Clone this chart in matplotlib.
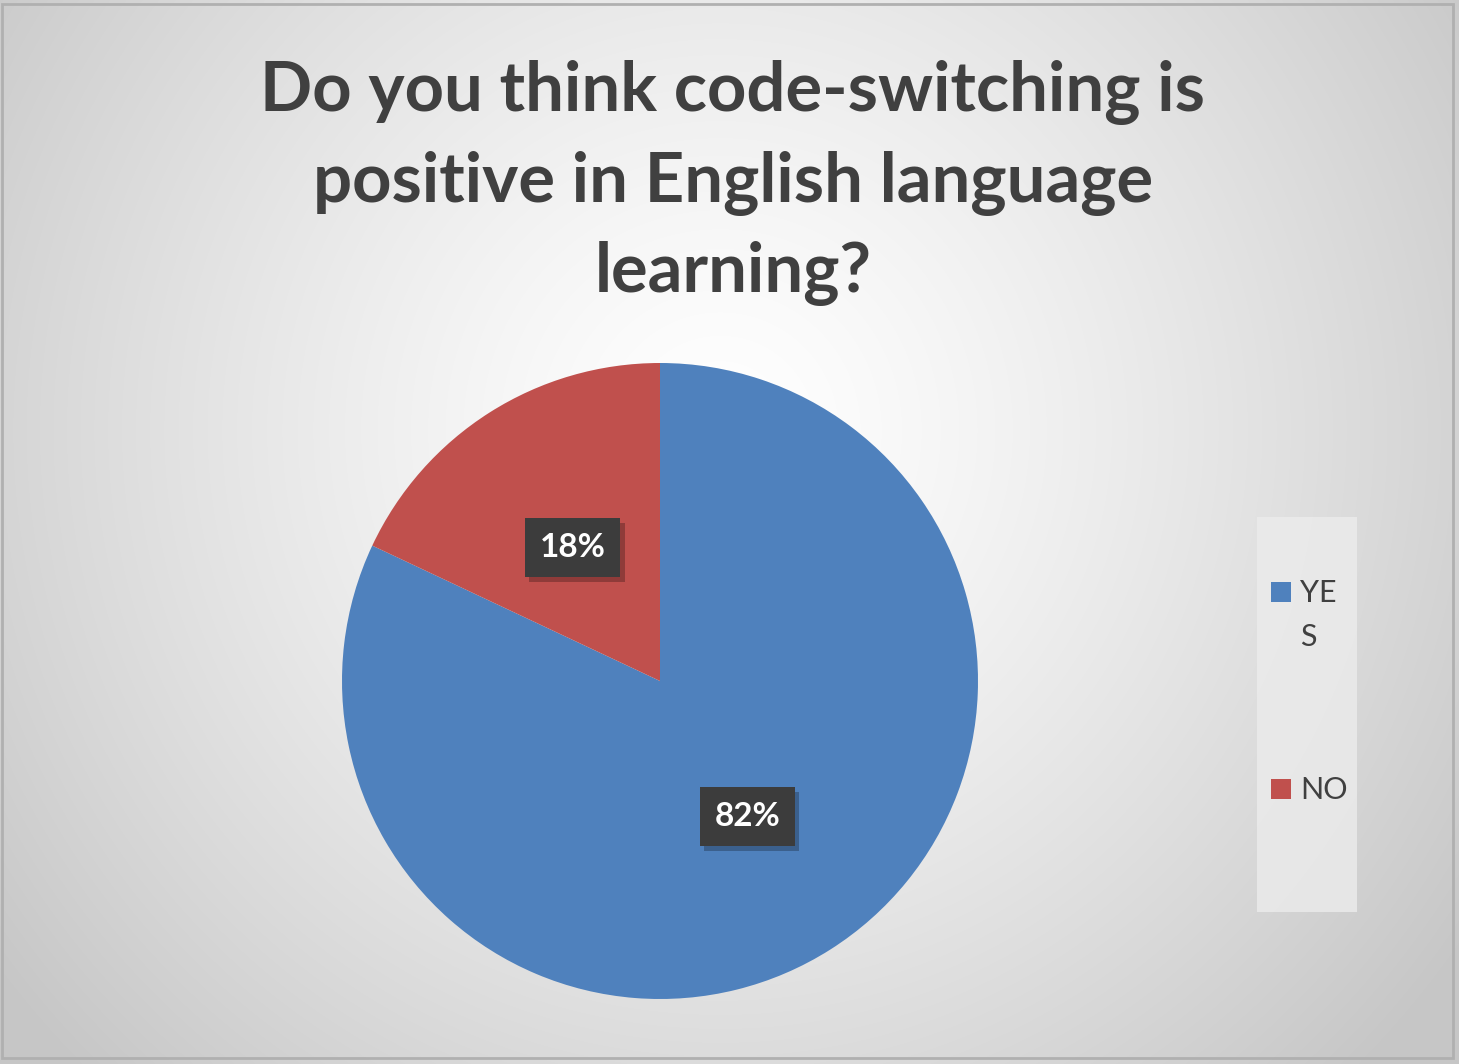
import numpy as np
import matplotlib
matplotlib.use("Agg")
import matplotlib.pyplot as plt
from matplotlib.patches import Rectangle
import matplotlib.patheffects as pe

categories = ["YES", "NO"]
legend_labels = ["YE\nS", "NO"]
values = [82, 18]
colors = ["#4F81BD", "#C0504D"]
title = "Do you think code-switching is\npositive in English language\nlearning?"

W, H = 1459, 1064
fig = plt.figure(figsize=(W / 100, H / 100), dpi=100)

# radial gradient background
bg = fig.add_axes([0, 0, 1, 1])
yy, xx = np.mgrid[0:H, 0:W]
cx, cy = 720, 430
d = np.sqrt((xx - cx) ** 2 + (yy - cy) ** 2)
d = np.clip(d / 900.0, 0, 1)
val = 1.0 - 0.22 * d ** 1.3
img = np.dstack([val, val, val])
bg.imshow(img, extent=[0, W, H, 0], aspect="auto", interpolation="bilinear")
bg.set_xlim(0, W)
bg.set_ylim(H, 0)
bg.axis("off")
bg.add_patch(Rectangle((2, 4), W - 8, H - 10, fill=False, edgecolor="#b0b0b0", lw=2))

# legend box
bg.add_patch(Rectangle((1257, 517), 100, 395, facecolor="#ececec", edgecolor="none", alpha=0.8))

bg.text(733, 183, title, ha="center", va="center", fontsize=49.5, fontweight="bold",
        family="Lato", color="#404040", linespacing=1.5)

# pie
cxp, cyp, r = 660, 681, 318
ax = fig.add_axes([(cxp - r) / W, (H - cyp - r) / H, 2 * r / W, 2 * r / H])
wedges, _ = ax.pie(values, colors=colors, startangle=90, counterclock=False,
                   radius=1, wedgeprops=dict(linewidth=0))
ax.set_xlim(-1, 1)
ax.set_ylim(-1, 1)
ax.set_aspect("auto")
ax.axis("off")

# data labels with shadowed boxes
label_pos = [(0.275, -0.425), (-0.275, 0.42)]
for v, (lx, ly) in zip(values, label_pos):
    t = ax.text(lx, ly, f"{v}%", ha="center", va="center", fontsize=24, fontweight="bold",
                family="Lato", color="white",
                bbox=dict(boxstyle="square,pad=0.45", facecolor="#3c3c3c", edgecolor="none"))
    t.get_bbox_patch().set_path_effects([
        pe.SimplePatchShadow(offset=(3, -4), shadow_rgbFace="black", alpha=0.25),
        pe.Normal()])

# legend (drawn from categories/colors)
leg_y = [592, 789]
for lab, col, y in zip(legend_labels, colors, leg_y):
    bg.add_patch(Rectangle((1271, y - 10), 20, 20, facecolor=col, edgecolor="none"))
    bg.text(1300, y - 13, lab, ha="left", va="top", fontsize=22, family="Lato",
            color="#404040", linespacing=1.7)

fig.savefig("out.png", dpi=100)
